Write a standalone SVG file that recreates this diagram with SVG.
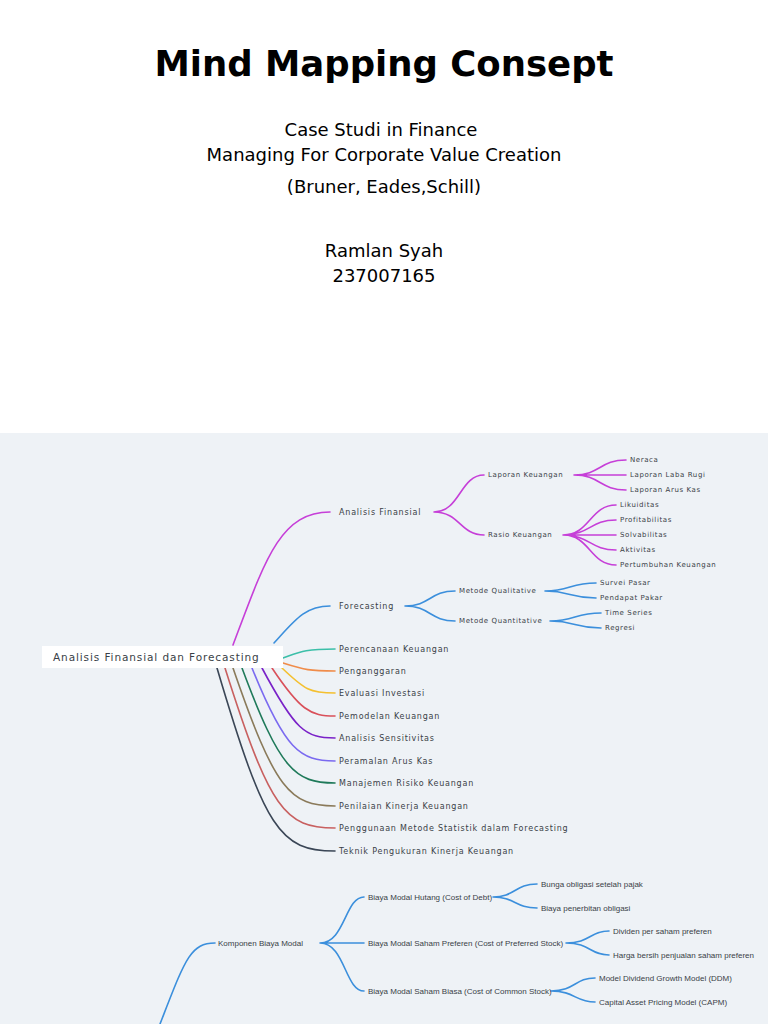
<svg xmlns="http://www.w3.org/2000/svg" width="768" height="1024" viewBox="0 0 768 1024">
<style>
.t{font-family:"DejaVu Sans",sans-serif;fill:#000;text-anchor:middle}
.m{font-family:"DejaVu Sans",sans-serif;fill:#3a3f47;font-size:8px;letter-spacing:0.8px}
.s{font-size:7px;letter-spacing:0.6px}
.b{font-family:"Liberation Sans",sans-serif;fill:#3a3f47;font-size:8px}
path{fill:none;stroke-width:1.6;stroke-linecap:round}
.pk{stroke:#c63fd8}.bl{stroke:#3b8fdc}
</style>
<rect width="768" height="1024" fill="#fff"/>
<rect y="433" width="768" height="591" fill="#eef2f6"/>
<text class="t" x="384" y="76" font-size="35.5" font-weight="bold">Mind Mapping Consept</text>
<text class="t" x="381" y="136" font-size="18">Case Studi in Finance</text>
<text class="t" x="384" y="161" font-size="18">Managing For Corporate Value Creation</text>
<text class="t" x="384" y="193" font-size="18">(Bruner, Eades,Schill)</text>
<text class="t" x="384" y="257" font-size="18">Ramlan Syah</text>
<text class="t" x="384" y="282" font-size="18">237007165</text>
<g id="connectors">
<path class="pk" d="M233 645 C265 560 280 512 330 512"/>
<path class="pk" d="M434 512 C460 512 460 475 484 475 M434 512 C460 512 460 535 484 535"/>
<path class="pk" d="M574 475 C600 475 600 460 626 460 M574 475 H626 M574 475 C600 475 600 490 626 490"/>
<path class="pk" d="M563 535 C590 535 590 505 616 505 M563 535 C590 535 590 520 616 520 M563 535 H616 M563 535 C590 535 590 550 616 550 M563 535 C590 535 590 565 616 565"/>
<path class="bl" d="M274 643 C295 620 305 606 330 606"/>
<path class="bl" d="M405 606 C430 606 430 591 455 591 M405 606 C430 606 430 621 455 621"/>
<path class="bl" d="M545 591 C570 591 570 583 596 583 M545 591 C570 591 570 598 596 598"/>
<path class="bl" d="M550 621 C575 621 575 613 601 613 M550 621 C575 621 575 628 601 628"/>
<path stroke="#3bbfa8" d="M283 658 C300 652 305 649 335 649"/>
<path stroke="#f08c4a" d="M283 663 C305 670 310 671 335 671"/>
<path stroke="#f4c030" d="M282 668 C305 690 310 693 335 693"/>
<path stroke="#d9505a" d="M272 668 C300 710 310 716 335 716"/>
<path stroke="#7a22c8" d="M262 668 C295 730 305 738 335 738"/>
<path stroke="#7a6af0" d="M252 668 C285 750 300 761 335 761"/>
<path stroke="#1f7a5a" d="M242 668 C280 770 295 783 335 783"/>
<path stroke="#8a7a5a" d="M233 668 C275 790 290 806 335 806"/>
<path stroke="#c86060" d="M225 668 C270 810 285 828 335 828"/>
<path stroke="#3a4656" d="M217 668 C265 830 280 851 335 851"/>
<path class="bl" d="M160 1024 C185 960 190 943 215 943"/>
<path class="bl" d="M320 943 C345 943 345 897 364 897 M320 943 H364 M320 943 C345 943 345 991 364 991"/>
<path class="bl" d="M493 897 C515 897 515 884 537 884 M493 897 C515 897 515 908 537 908"/>
<path class="bl" d="M566 943 C590 943 590 931 609 931 M566 943 C590 943 590 955 609 955"/>
<path class="bl" d="M551 991 C575 991 575 978 595 978 M551 991 C575 991 575 1002 595 1002"/>
</g>
<g id="root"><rect x="42" y="646" width="241" height="22" fill="#fff"/><text x="53" y="661" font-family="DejaVu Sans,sans-serif" font-size="10.5" fill="#3a3f47" letter-spacing="0.9">Analisis Finansial dan Forecasting</text></g>
<g id="af"><text class="m" x="339" y="515">Analisis Finansial</text></g>
<g id="lk"><text class="m s" x="488" y="477">Laporan Keuangan</text></g>
<g id="rk"><text class="m s" x="488" y="537">Rasio Keuangan</text></g>
<g id="leaves1">
<text class="m s" x="630" y="462">Neraca</text>
<text class="m s" x="630" y="477">Laporan Laba Rugi</text>
<text class="m s" x="630" y="492">Laporan Arus Kas</text>
<text class="m s" x="620" y="507">Likuiditas</text>
<text class="m s" x="620" y="522">Profitabilitas</text>
<text class="m s" x="620" y="537">Solvabilitas</text>
<text class="m s" x="620" y="552">Aktivitas</text>
<text class="m s" x="620" y="567">Pertumbuhan Keuangan</text>
</g>
<g id="fc"><text class="m" x="339" y="609">Forecasting</text></g>
<g id="mq"><text class="m s" x="459" y="593">Metode Qualitative</text></g>
<g id="mqt"><text class="m s" x="459" y="623">Metode Quantitative</text></g>
<g id="leaves2">
<text class="m s" x="600" y="585">Survei Pasar</text>
<text class="m s" x="600" y="600">Pendapat Pakar</text>
<text class="m s" x="605" y="615">Time Series</text>
<text class="m s" x="605" y="630">Regresi</text>
</g>
<g id="list">
<text class="m" x="339" y="652">Perencanaan Keuangan</text>
<text class="m" x="339" y="674">Penganggaran</text>
<text class="m" x="339" y="696">Evaluasi Investasi</text>
<text class="m" x="339" y="719">Pemodelan Keuangan</text>
<text class="m" x="339" y="741">Analisis Sensitivitas</text>
<text class="m" x="339" y="764">Peramalan Arus Kas</text>
<text class="m" x="339" y="786">Manajemen Risiko Keuangan</text>
<text class="m" x="339" y="809">Penilaian Kinerja Keuangan</text>
<text class="m" x="339" y="831">Penggunaan Metode Statistik dalam Forecasting</text>
<text class="m" x="339" y="854">Teknik Pengukuran Kinerja Keuangan</text>
</g>
<g id="kbm"><text class="b" x="218" y="946" font-size="9">Komponen Biaya Modal</text></g>
<g id="cost">
<text class="b" x="368" y="900">Biaya Modal Hutang (Cost of Debt)</text>
<text class="b" x="368" y="946">Biaya Modal Saham Preferen (Cost of Preferred Stock)</text>
<text class="b" x="368" y="994">Biaya Modal Saham Biasa (Cost of Common Stock)</text>
<text class="b" x="541" y="887">Bunga obligasi setelah pajak</text>
<text class="b" x="541" y="911">Biaya penerbitan obligasi</text>
<text class="b" x="613" y="934">Dividen per saham preferen</text>
<text class="b" x="613" y="958">Harga bersih penjualan saham preferen</text>
<text class="b" x="599" y="981">Model Dividend Growth Model (DDM)</text>
<text class="b" x="599" y="1005">Capital Asset Pricing Model (CAPM)</text>
</g>
</svg>
